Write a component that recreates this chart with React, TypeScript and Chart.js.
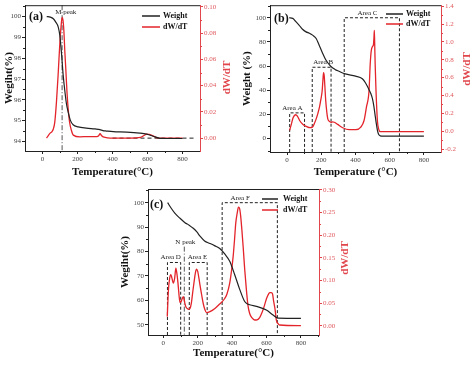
import React, { useEffect, useRef } from 'react';
import { Chart, registerables } from 'chart.js';
Chart.register(...registerables);

const FONT = "'Liberation Serif', 'Times New Roman', serif";
const BLACK = '#222222';
const RED = '#e3242b';
const RED_AXIS = '#e0464c';

// ---------- shared ticks ----------
const xTicks = [0, 200, 400, 600, 800];

// ---------- panel (a) ----------
const tempWeightA = [24, 45, 62, 75, 90, 99, 108, 118, 128, 137, 147, 160, 175, 204, 250, 300, 328, 345, 366, 404, 481, 556, 595, 643, 671, 746, 800];
const weightA = [100, 99.98, 99.9, 99.75, 99.5, 99.1, 98.3, 97.2, 96.4, 95.8, 95.4, 95.0, 94.8, 94.7, 94.64, 94.6, 94.57, 94.52, 94.5, 94.47, 94.45, 94.4, 94.35, 94.22, 94.15, 94.14, 94.14];
const tempRateA = [23, 33, 45, 53, 62, 70, 80, 90, 99, 106, 112, 117, 122, 128, 133, 140, 147, 155, 165, 176, 214, 260, 310, 322, 329, 337, 347, 405, 500, 560, 580, 595, 610, 633, 660, 800];
const rateA = [0, 0.002, 0.004, 0.0048, 0.007, 0.012, 0.028, 0.05, 0.072, 0.085, 0.092, 0.09, 0.082, 0.065, 0.053, 0.035, 0.022, 0.012, 0.006, 0.0023, 0.001, 0.0012, 0.0012, 0.002, 0.0035, 0.002, 0.001, 0.0, 0.0, 0.0005, 0.002, 0.003, 0.0028, 0.0017, 0.0, 0.0];
const baselineTempA = [400, 870];
const baselineA = [0, 0];
const leftTicksA = [94, 95, 96, 97, 98, 99, 100];
const rightTicksA = [0, 0.02, 0.04, 0.06, 0.08, 0.1];

// ---------- panel (b) ----------
const tempWeightB = [12, 33, 50, 71, 90, 111, 130, 149, 170, 187, 205, 226, 255, 280, 303, 340, 400, 440, 458, 477, 490, 499, 507, 514, 521, 528, 535, 545, 560, 800];
const weightB = [100, 99.5, 97, 93.7, 90.5, 88.3, 87.2, 85.6, 82.8, 77.4, 71.5, 65.2, 59.8, 57.2, 55.7, 53.5, 51.6, 49.5, 46.2, 41, 37, 33, 27, 20, 13, 7, 3.5, 2.2, 1.9, 1.9];
const tempRateB = [15, 25, 35, 50, 60, 73, 93, 112, 135, 150, 160, 170, 180, 189, 197, 205, 209, 213, 217, 221, 226, 233, 238, 247, 257, 266, 276, 296, 325, 363, 402, 431, 450, 464, 479, 486, 492, 500, 505, 508, 510, 512, 515, 520, 528, 536, 545, 800];
const rateB = [0.01, 0.08, 0.15, 0.184, 0.17, 0.12, 0.076, 0.054, 0.039, 0.05, 0.09, 0.138, 0.2, 0.266, 0.35, 0.45, 0.56, 0.655, 0.62, 0.5, 0.34, 0.2, 0.139, 0.11, 0.1, 0.105, 0.1, 0.076, 0.039, 0.017, 0.017, 0.046, 0.12, 0.27, 0.45, 0.75, 0.9, 0.95, 0.97, 1.05, 1.13, 1.0, 0.75, 0.45, 0.12, 0.02, -0.005, -0.005];
const leftTicksB = [0, 20, 40, 60, 80, 100];
const rightTicksB = [-0.2, 0, 0.2, 0.4, 0.6, 0.8, 1.0, 1.2, 1.4];

// ---------- panel (c) ----------
const tempWeightC = [25, 48, 68, 97, 126, 150, 174, 195, 213, 240, 271, 300, 328, 357, 386, 415, 444, 473, 490, 502, 560, 599, 638, 667, 800];
const weightC = [100, 97.5, 95.6, 93.6, 91.8, 90.8, 89.5, 88, 86.3, 84.3, 83.3, 82.3, 81.2, 79, 76, 70.5, 64.5, 59.5, 58.5, 58.2, 57.1, 56, 54, 52.7, 52.6];
const tempRateC = [23, 30, 37, 44, 50, 58, 66, 73, 79, 85, 92, 97, 103, 110, 116, 121, 126, 133, 139, 147, 155, 163, 170, 180, 187, 193, 200, 207, 213, 222, 232, 242, 251, 271, 300, 328, 357, 370, 386, 396, 406, 414, 421, 430, 437, 444, 450, 457, 464, 473, 483, 492, 502, 516, 531, 545, 560, 575, 589, 600, 613, 620, 628, 635, 641, 650, 657, 668, 676, 800];
const rateC = [0.02, 0.08, 0.105, 0.113, 0.105, 0.094, 0.105, 0.127, 0.115, 0.095, 0.065, 0.051, 0.053, 0.06, 0.064, 0.058, 0.048, 0.04, 0.038, 0.036, 0.038, 0.05, 0.071, 0.1, 0.118, 0.125, 0.12, 0.105, 0.09, 0.07, 0.049, 0.035, 0.029, 0.031, 0.038, 0.048, 0.06, 0.07, 0.094, 0.12, 0.153, 0.19, 0.226, 0.25, 0.262, 0.258, 0.241, 0.21, 0.175, 0.125, 0.079, 0.045, 0.027, 0.017, 0.0125, 0.013, 0.018, 0.03, 0.046, 0.06, 0.071, 0.073, 0.073, 0.07, 0.055, 0.035, 0.0125, 0.004, 0.0015, 0];
const leftTicksC = [50, 60, 70, 80, 90, 100];
const rightTicksC = [0, 0.05, 0.1, 0.15, 0.2, 0.25, 0.3];

type Box = { x0: number; x1: number; top: number };
type Note = { text: string; x: number; y: number };
type VLine = { x: number; top?: number };

interface PanelSpec {
  left: number; top: number; width: number; height: number;
  L: number; R: number; T: number; B: number;
  xMin: number; xMax: number;
  yMin: number; yMax: number; y1Min: number; y1Max: number;
  leftTicks: number[]; rightTicks: number[]; leftDec: number; rightDec: number;
  tW: number[]; w: number[]; tR: number[]; r: number[];
  baseT?: number[]; base?: number[];
  xTitle: string; yTitle: string; xTitlePad: number; yTitlePad: number;
  rightTitle: { text: string; x: number; y: number };
  panel: { text: string; x: number; y: number };
  legend: { x0: number; x1: number; tx: number; y1: number; y2: number };
  boxes: Box[]; vlines: VLine[]; notes: Note[];
}

function minors(majors: number[], min: number, max: number): number[] {
  const out: number[] = [];
  for (let i = 0; i < majors.length - 1; i++) out.push((majors[i] + majors[i + 1]) / 2);
  const step = majors[1] - majors[0];
  const lo = majors[0] - step / 2;
  const hi = majors[majors.length - 1] + step / 2;
  if (lo > min) out.push(lo);
  if (hi < max) out.push(hi);
  return out;
}

function decorPlugin(p: PanelSpec) {
  return {
    id: 'decor',
    beforeDatasetsDraw(chart: any) {
      const { ctx, chartArea: ca, scales } = chart;
      const xs = scales.x, ys = scales.y;
      ctx.save();
      ctx.strokeStyle = '#222';
      ctx.lineWidth = 1;
      ctx.setLineDash([3, 2]);
      for (const b of p.boxes) {
        const x0 = xs.getPixelForValue(b.x0), x1 = xs.getPixelForValue(b.x1), t = ys.getPixelForValue(b.top);
        ctx.beginPath();
        ctx.moveTo(x0, ca.bottom); ctx.lineTo(x0, t); ctx.lineTo(x1, t); ctx.lineTo(x1, ca.bottom);
        ctx.stroke();
      }
      ctx.strokeStyle = '#555';
      ctx.setLineDash([5, 2, 1, 2]);
      for (const v of p.vlines) {
        const x = xs.getPixelForValue(v.x);
        const t = v.top === undefined ? ca.top : ys.getPixelForValue(v.top);
        ctx.beginPath(); ctx.moveTo(x, t); ctx.lineTo(x, ca.bottom); ctx.stroke();
      }
      ctx.restore();
    },
    afterDraw(chart: any) {
      const { ctx, chartArea: ca, scales } = chart;
      const xs = scales.x, ys = scales.y, y1 = scales.y1;
      ctx.save();
      // top frame
      ctx.strokeStyle = BLACK; ctx.lineWidth = 1; ctx.setLineDash([]);
      ctx.beginPath(); ctx.moveTo(ca.left, ca.top + 0.5); ctx.lineTo(ca.right, ca.top + 0.5); ctx.stroke();
      // minor ticks
      ctx.beginPath();
      for (const v of minors(xTicks, xs.min, xs.max)) {
        const x = Math.round(xs.getPixelForValue(v)) + 0.5;
        ctx.moveTo(x, ca.bottom); ctx.lineTo(x, ca.bottom + 2);
      }
      for (const v of minors(p.leftTicks, ys.min, ys.max)) {
        const y = Math.round(ys.getPixelForValue(v)) + 0.5;
        ctx.moveTo(ca.left, y); ctx.lineTo(ca.left - 2, y);
      }
      ctx.stroke();
      ctx.strokeStyle = RED_AXIS;
      ctx.beginPath();
      for (const v of minors(p.rightTicks, y1.min, y1.max)) {
        const y = Math.round(y1.getPixelForValue(v)) + 0.5;
        ctx.moveTo(ca.right, y); ctx.lineTo(ca.right + 2, y);
      }
      ctx.stroke();
      // notes
      ctx.fillStyle = '#222';
      ctx.font = `7px ${FONT}`;
      ctx.textAlign = 'center';
      ctx.textBaseline = 'middle';
      for (const n of p.notes) ctx.fillText(n.text, xs.getPixelForValue(n.x), ys.getPixelForValue(n.y));
      // legend
      const lg = p.legend;
      ctx.lineWidth = 1.5;
      ctx.strokeStyle = BLACK;
      ctx.beginPath(); ctx.moveTo(lg.x0, lg.y1); ctx.lineTo(lg.x1, lg.y1); ctx.stroke();
      ctx.strokeStyle = RED;
      ctx.beginPath(); ctx.moveTo(lg.x0, lg.y2); ctx.lineTo(lg.x1, lg.y2); ctx.stroke();
      ctx.fillStyle = '#111';
      ctx.font = `bold 8px ${FONT}`;
      ctx.textAlign = 'left';
      ctx.fillText('Weight', lg.tx, lg.y1);
      ctx.fillText('dW/dT', lg.tx, lg.y2);
      // panel label
      ctx.font = `bold 12px ${FONT}`;
      ctx.fillText(p.panel.text, p.panel.x, p.panel.y);
      // right title (reads bottom to top)
      ctx.translate(p.rightTitle.x, p.rightTitle.y);
      ctx.rotate(-Math.PI / 2);
      ctx.fillStyle = RED_AXIS;
      ctx.font = `bold 11px ${FONT}`;
      ctx.textAlign = 'center';
      ctx.fillText(p.rightTitle.text, 0, 0);
      ctx.restore();
    },
  };
}

function makeConfig(p: PanelSpec): any {
  const tickFont = { family: FONT, size: 7 };
  const titleFont = { family: FONT, size: 11, weight: 'bold' as const };
  const datasets: any[] = [
    {
      label: 'Weight', data: p.tW.map((x, i) => ({ x, y: p.w[i] })), yAxisID: 'y',
      borderColor: BLACK, borderWidth: 1.2, pointRadius: 0, cubicInterpolationMode: 'monotone', fill: false,
    },
    {
      label: 'dW/dT', data: p.tR.map((x, i) => ({ x, y: p.r[i] })), yAxisID: 'y1',
      borderColor: RED, borderWidth: 1.3, pointRadius: 0, cubicInterpolationMode: 'monotone', fill: false,
    },
  ];
  if (p.baseT && p.base) {
    datasets.push({
      label: 'base', data: p.baseT.map((x, i) => ({ x, y: p.base![i] })), yAxisID: 'y1',
      borderColor: BLACK, borderWidth: 1, borderDash: [4, 3], pointRadius: 0, fill: false,
    });
  }
  return {
    type: 'line',
    data: { datasets },
    options: {
      animation: false,
      responsive: false,
      devicePixelRatio: 1,
      layout: { padding: { top: p.T, left: 0, right: 0, bottom: 0 } },
      plugins: { legend: { display: false }, tooltip: { enabled: false } },
      scales: {
        x: {
          type: 'linear', position: 'bottom', min: p.xMin, max: p.xMax,
          afterBuildTicks: (s: any) => { s.ticks = xTicks.map((value) => ({ value })); },
          afterFit: (s: any) => { s.height = p.height - p.B; },
          ticks: { font: tickFont, color: '#444', padding: 1, autoSkip: false, maxRotation: 0, callback: (v: any) => String(v) },
          grid: { drawOnChartArea: false, drawTicks: true, tickLength: 3, color: BLACK, lineWidth: 1 },
          border: { display: true, color: BLACK, width: 1 },
          title: { display: true, text: p.xTitle, font: titleFont, color: '#111', padding: { top: 0, bottom: p.xTitlePad } },
        },
        y: {
          type: 'linear', position: 'left', min: p.yMin, max: p.yMax,
          afterBuildTicks: (s: any) => { s.ticks = p.leftTicks.map((value) => ({ value })); },
          afterFit: (s: any) => { s.width = p.L; },
          ticks: { font: tickFont, color: '#444', padding: 1, autoSkip: false, callback: (v: any) => Number(v).toFixed(p.leftDec) },
          grid: { drawOnChartArea: false, drawTicks: true, tickLength: 3, color: BLACK, lineWidth: 1 },
          border: { display: true, color: BLACK, width: 1 },
          title: { display: true, text: p.yTitle, font: titleFont, color: '#111', padding: { top: p.yTitlePad, bottom: 0 } },
        },
        y1: {
          type: 'linear', position: 'right', min: p.y1Min, max: p.y1Max,
          afterBuildTicks: (s: any) => { s.ticks = p.rightTicks.map((value) => ({ value })); },
          afterFit: (s: any) => { s.width = p.width - p.R; },
          ticks: { font: tickFont, color: '#e05a5f', padding: 1, autoSkip: false, callback: (v: any) => Number(v).toFixed(p.rightDec) },
          grid: { drawOnChartArea: false, drawTicks: true, tickLength: 3, color: RED_AXIS, lineWidth: 1 },
          border: { display: true, color: RED_AXIS, width: 1 },
          title: { display: false },
        },
      },
    },
    plugins: [decorPlugin(p)],
  };
}

const panelA: PanelSpec = {
  left: 0, top: 0, width: 237, height: 180,
  L: 25, R: 200, T: 3, B: 151,
  xMin: -100, xMax: 900, yMin: 93.54, yMax: 100.55, y1Min: -0.0098, y1Max: 0.1013,
  leftTicks: leftTicksA, rightTicks: rightTicksA, leftDec: 0, rightDec: 2,
  tW: tempWeightA, w: weightA, tR: tempRateA, r: rateA, baseT: baselineTempA, base: baselineA,
  xTitle: 'Temperature(°C)', yTitle: 'Wegiht(%)', xTitlePad: 1.4, yTitlePad: 2.4,
  rightTitle: { text: 'dW/dT', x: 227, y: 77.5 },
  panel: { text: '(a)', x: 29, y: 17 },
  legend: { x0: 142, x1: 160, tx: 163, y1: 16, y2: 27 },
  boxes: [],
  vlines: [{ x: 112 }],
  notes: [{ text: 'M peak', x: 133, y: 100.22 }],
};

const panelB: PanelSpec = {
  left: 237, top: 0, width: 237, height: 180,
  L: 33, R: 204, T: 3, B: 152,
  xMin: -100, xMax: 900, yMin: -11.2, yMax: 110.4, y1Min: -0.233, y1Max: 1.411,
  leftTicks: leftTicksB, rightTicks: rightTicksB, leftDec: 0, rightDec: 1,
  tW: tempWeightB, w: weightB, tR: tempRateB, r: rateB,
  xTitle: 'Temperature (°C)', yTitle: 'Weight (%)', xTitlePad: 1.4, yTitlePad: 3.4,
  rightTitle: { text: 'dW/dT', x: 230, y: 69 },
  panel: { text: '(b)', x: 37, y: 19 },
  legend: { x0: 149, x1: 166, tx: 169, y1: 14, y2: 24 },
  boxes: [
    { x0: 15, x1: 102, top: 21.2 },
    { x0: 147, x1: 257, top: 59 },
    { x0: 334, x1: 657, top: 100 },
  ],
  vlines: [],
  notes: [
    { text: 'Area A', x: 31, y: 25.3 },
    { text: 'Area B', x: 211, y: 63 },
    { text: 'Area C', x: 470, y: 103.8 },
  ],
};

const panelC: PanelSpec = {
  left: 110, top: 180, width: 260, height: 185,
  L: 38, R: 209, T: 9, B: 155,
  xMin: -89, xMax: 905, yMin: 45.8, yMax: 105.6, y1Min: -0.0206, y1Max: 0.302,
  leftTicks: leftTicksC, rightTicks: rightTicksC, leftDec: 0, rightDec: 2,
  tW: tempWeightC, w: weightC, tR: tempRateC, r: rateC,
  xTitle: 'Temperature(°C)', yTitle: 'Wegiht(%)', xTitlePad: 5.4, yTitlePad: 8.4,
  rightTitle: { text: 'dW/dT', x: 235, y: 78 },
  panel: { text: '(c)', x: 40, y: 25 },
  legend: { x0: 152, x1: 168, tx: 173, y1: 19, y2: 30 },
  boxes: [
    { x0: 24, x1: 101, top: 75.5 },
    { x0: 151, x1: 255, top: 75.5 },
    { x0: 342, x1: 663, top: 100 },
  ],
  vlines: [{ x: 122, top: 82 }],
  notes: [
    { text: 'Area D', x: 43, y: 77.5 },
    { text: 'N peak', x: 128, y: 84 },
    { text: 'Area E', x: 199, y: 77.5 },
    { text: 'Area F', x: 447, y: 101.9 },
  ],
};

function Panel({ spec }: { spec: PanelSpec }) {
  const ref = useRef<HTMLCanvasElement>(null);
  useEffect(() => {
    const chart = new Chart(ref.current as HTMLCanvasElement, makeConfig(spec));
    return () => chart.destroy();
  }, [spec]);
  return (
    <canvas
      ref={ref}
      width={spec.width}
      height={spec.height}
      style={{ position: 'absolute', left: spec.left, top: spec.top, width: spec.width, height: spec.height }}
    />
  );
}

export default function App() {
  return (
    <div style={{ position: 'absolute', left: 0, top: 0, width: 474, height: 365, background: '#fff', overflow: 'hidden' }}>
      <Panel spec={panelA} />
      <Panel spec={panelB} />
      <Panel spec={panelC} />
    </div>
  );
}
